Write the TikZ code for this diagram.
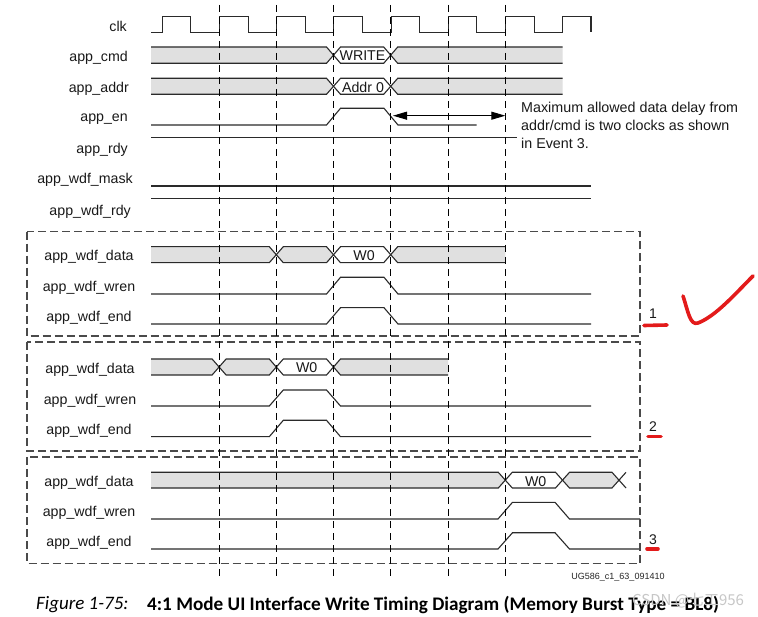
\documentclass[tikz,border=0pt]{standalone}
\usepackage{fontspec}
\setmainfont{Liberation Sans}
\newfontfamily\capfont{Carlito}
\newfontfamily\cjkwm{Noto Sans CJK SC}
\usetikzlibrary{arrows.meta}
\definecolor{busgrey}{HTML}{E0E0E0}
\definecolor{sigcol}{HTML}{2A2A2A}
\definecolor{boxcol}{HTML}{4A4A4A}
\definecolor{markred}{HTML}{E31B1B}
\tikzset{
  sig/.style={draw=sigcol, line width=1.1pt, line join=miter},
  lbl/.style={font=\fontsize{14.2}{17}\selectfont, inner sep=0pt, text=black!90},
  evlbl/.style={font=\fontsize{14}{17}\selectfont, inner sep=0pt, text=black!90},
  edgeline/.style={draw=black, line width=1pt, dash pattern=on 7pt off 5pt},
  evbox/.style={draw=boxcol, line width=1.1pt, dash pattern=on 8pt off 4pt},
  redmark/.style={draw=markred, line width=3.6pt, line cap=round, line join=round},
}
% bus segment with flat left end at x=151, tapered right end at #1
\newcommand\tbusL[4]{%
  \fill[#4] (151,#2) -- ({#1-7},#2) -- (#1,{(#2+#3)/2}) -- ({#1-7},#3) -- (151,#3) -- cycle;
  \draw[sig] (151,#2) -- ({#1-7},#2) -- (#1,{(#2+#3)/2}) -- ({#1-7},#3) -- (151,#3);}
% bus segment tapered both ends
\newcommand\tbusM[5]{%
  \filldraw[sig,fill=#5] (#1,{(#3+#4)/2}) -- ({#1+7},#3) -- ({#2-7},#3) -- (#2,{(#3+#4)/2}) -- ({#2-7},#4) -- ({#1+7},#4) -- cycle;}
% bus segment tapered left, flat right end
\newcommand\tbusR[5]{%
  \fill[#5] (#1,{(#3+#4)/2}) -- ({#1+7},#3) -- (#2,#3) -- (#2,#4) -- ({#1+7},#4) -- cycle;
  \draw[sig] (#2,#3) -- ({#1+7},#3) -- (#1,{(#3+#4)/2}) -- ({#1+7},#4) -- (#2,#4);}
\begin{document}
\begin{tikzpicture}[x=1pt,y=-1pt]
\useasboundingbox[fill=white] (0,0) rectangle (758,617);

% ---------- labels ----------
\node[lbl,anchor=east] (lclk) at (127,26.5) {clk};
\node[lbl,anchor=east] (lcmd) at (128,58) {app\_cmd};
\node[lbl,anchor=east] (laddr) at (129,88.5) {app\_addr};
\node[lbl,anchor=east] (len) at (128,119) {app\_en};
\node[lbl,anchor=east] (lrdy) at (128,149.5) {app\_rdy};
\node[lbl,anchor=east] (lmask) at (133,179.5) {app\_wdf\_mask};
\node[lbl,anchor=east] (lwrdy) at (131,211.5) {app\_wdf\_rdy};

\node[lbl] (ldataA) at (89,257) {app\_wdf\_data};
\node[lbl] (lwrenA) at (89,288) {app\_wdf\_wren};
\node[lbl] (lendA) at (89,318) {app\_wdf\_end};
\node[lbl] (ldataB) at (90,369.5) {app\_wdf\_data};
\node[lbl] (lwrenB) at (90,400.5) {app\_wdf\_wren};
\node[lbl] (lendB) at (89,430.5) {app\_wdf\_end};
\node[lbl] (ldataC) at (89,483) {app\_wdf\_data};
\node[lbl] (lwrenC) at (89,513) {app\_wdf\_wren};
\node[lbl] (lendC) at (89,543) {app\_wdf\_end};

% ---------- clock ----------
\draw[sig] (151,32.3) -- (162.3,32.3)
  \foreach \k in {0,...,6}{ -- ({162.3+57.2*\k},16.7) -- ({190.9+57.2*\k},16.7) -- ({190.9+57.2*\k},32.3) -- ({219.5+57.2*\k},32.3)}
  -- (562.7,32.3) -- (562.7,16.7) -- (591,16.7) -- (591,32.3);

% ---------- app_cmd / app_addr ----------
\tbusL{333.5}{47}{63.3}{busgrey}
\tbusM{333.5}{390.7}{47}{63.3}{white}
\tbusR{390.7}{562.7}{47}{63.3}{busgrey}
\node[lbl] (twrite) at (362.5,56) {WRITE};
\tbusL{333.5}{78.3}{94.3}{busgrey}
\tbusM{333.5}{390.7}{78.3}{94.3}{white}
\tbusR{390.7}{562.7}{78.3}{94.3}{busgrey}
\node[lbl] (taddr) at (363,87) {Addr 0};

% ---------- app_en ----------
\draw[sig] (151,125) -- (326.5,125) -- (340.5,108.3) -- (384,108.3) -- (398,125) -- (476.7,125);
% ---------- app_rdy, mask, wdf_rdy ----------
\draw[sig] (151,137.3) -- (516.7,137.3);
\draw[sig] (151,186) -- (591,186);
\draw[sig] (151,198.3) -- (591,198.3);

% ---------- arrow + note ----------
\coordinate (arL) at (393,115.7);
\coordinate (arR) at (505.3,115.7);
\draw[draw=black,line width=1pt,{Triangle[length=14pt,width=8pt]}-{Triangle[length=14pt,width=8pt]}] (arL) -- (arR);
\node[lbl,anchor=north west,align=left,font=\fontsize{14.3}{18}\selectfont] (note) at (521,101.5)
  {Maximum allowed data delay from\\addr/cmd is two clocks as shown\\in Event 3.};

% ---------- Event 1 ----------
\tbusL{276.3}{246.7}{262.7}{busgrey}
\tbusM{276.3}{333.5}{246.7}{262.7}{busgrey}
\tbusM{333.5}{390.7}{246.7}{262.7}{white}
\tbusR{390.7}{505.3}{246.7}{262.7}{busgrey}
\node[lbl] (w0A) at (364,256) {W0};
\draw[sig] (151,294) -- (326.5,294) -- (340.5,277.3) -- (384,277.3) -- (398,294) -- (591,294);
\draw[sig] (151,324) -- (326.5,324) -- (340.5,307.7) -- (384,307.7) -- (398,324) -- (591,324);

% ---------- Event 2 ----------
\tbusL{219.1}{359}{375}{busgrey}
\tbusM{219.1}{276.3}{359}{375}{busgrey}
\tbusM{276.3}{333.5}{359}{375}{white}
\tbusR{333.5}{448}{359}{375}{busgrey}
\node[lbl] (w0B) at (306.7,368) {W0};
\draw[sig] (151,406) -- (269.3,406) -- (283.3,390) -- (326.5,390) -- (340.5,406) -- (591,406);
\draw[sig] (151,436.7) -- (269.3,436.7) -- (283.3,420.3) -- (326.5,420.3) -- (340.5,436.7) -- (591,436.7);

% ---------- Event 3 ----------
\tbusL{505.3}{472.3}{488}{busgrey}
\tbusM{505.3}{562.5}{472.3}{488}{white}
\tbusM{562.5}{619}{472.3}{488}{busgrey}
\draw[sig] (619,480.15) -- (626,472.3);
\draw[sig] (619,480.15) -- (626,488);
\node[lbl] (w0C) at (535.7,481.2) {W0};
\draw[sig] (151,519) -- (498,519) -- (512.5,502.3) -- (555,502.3) -- (569.5,519) -- (640,519);
\draw[sig] (151,549) -- (498,549) -- (512.5,532.7) -- (555,532.7) -- (569.5,549) -- (640,549);

% ---------- dashed event boxes ----------
\draw[evbox] (27,231.7) rectangle (640,336);
\draw[evbox] (27,342) rectangle (640,451);
\draw[evbox] (27,457) rectangle (640,563.3);

% ---------- dashed clock-edge lines ----------
\foreach \xx in {219.1,276.3,333.5,390.7,448,505.3}
  \draw[edgeline] (\xx,5) -- (\xx,576);

% ---------- event numbers ----------
\node[evlbl] (ev1) at (653,314) {1};
\node[evlbl] (ev2) at (653,427) {2};
\node[evlbl] (ev3) at (653,540) {3};

% ---------- red hand marks ----------
\draw[redmark] (644,325.5) -- (667,325);
\draw[redmark] (683,296) .. controls (688,311) and (690,326) .. (698,323) .. controls (716,316) and (735,294) .. (753,276);
\draw[redmark] (648,436.5) -- (661,436.5);
\draw[redmark] (647,548.7) -- (658,548.7);

% ---------- figure id ----------
\node[inner sep=0pt,font=\fontsize{9}{10}\selectfont,text=black!85] (figid) at (618,577) {UG586\_c1\_63\_091410};

% ---------- caption ----------
\node[inner sep=0pt,anchor=west,font=\capfont\itshape\fontsize{19}{22}\selectfont] (capA) at (36,605) {Figure 1-75:};
\node[inner sep=0pt,anchor=west,font=\capfont\bfseries\fontsize{19.2}{22}\selectfont] (capB) at (147,605) {4:1 Mode UI Interface Write Timing Diagram (Memory Burst Type = BL8)};
\node[inner sep=0pt,anchor=west,font=\cjkwm\fontsize{15}{17}\selectfont,text=black!22] (wm) at (632,601) {CSDN @七工956};
\end{tikzpicture}
\end{document}
